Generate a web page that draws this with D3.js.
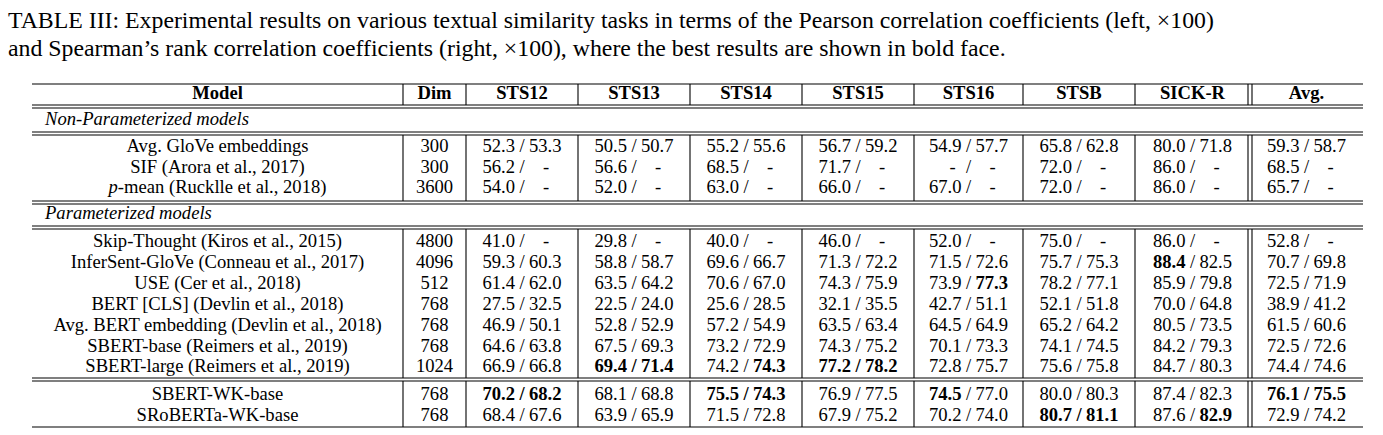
<!DOCTYPE html>
<html><head><meta charset="utf-8">
<script src="https://cdn.jsdelivr.net/npm/d3@7/dist/d3.min.js"></script>
<style>body{margin:0;background:#fff}text{font-family:"Liberation Serif","Times New Roman",serif;fill:#000}</style>
</head><body><svg id="c" width="1383" height="435"></svg>
<script>
const captionLines=["TABLE III: Experimental results on various textual similarity tasks in terms of the Pearson correlation coefficients (left, ×100)",
"and Spearman’s rank correlation coefficients (right, ×100), where the best results are shown in bold face."];
const headers=["Model","Dim","STS12","STS13","STS14","STS15","STS16","STSB","SICK-R","Avg."];
const groupTitles=["Non-Parameterized models","Parameterized models"];
const models1=["Avg. GloVe embeddings","SIF (Arora et al., 2017)","p-mean (Rucklle et al., 2018)"];
const dims1=["300","300","3600"];
const values1=[
["52.3/53.3","50.5/50.7","55.2/55.6","56.7/59.2","54.9/57.7","65.8/62.8","80.0/71.8","59.3/58.7"],
["56.2/-","56.6/-","68.5/-","71.7/-","-/-","72.0/-","86.0/-","68.5/-"],
["54.0/-","52.0/-","63.0/-","66.0/-","67.0/-","72.0/-","86.0/-","65.7/-"]];
const models2=["Skip-Thought (Kiros et al., 2015)","InferSent-GloVe (Conneau et al., 2017)","USE (Cer et al., 2018)","BERT [CLS] (Devlin et al., 2018)","Avg. BERT embedding (Devlin et al., 2018)","SBERT-base (Reimers et al., 2019)","SBERT-large (Reimers et al., 2019)"];
const dims2=["4800","4096","512","768","768","768","1024"];
const values2=[
["41.0/-","29.8/-","40.0/-","46.0/-","52.0/-","75.0/-","86.0/-","52.8/-"],
["59.3/60.3","58.8/58.7","69.6/66.7","71.3/72.2","71.5/72.6","75.7/75.3","88.4/82.5","70.7/69.8"],
["61.4/62.0","63.5/64.2","70.6/67.0","74.3/75.9","73.9/77.3","78.2/77.1","85.9/79.8","72.5/71.9"],
["27.5/32.5","22.5/24.0","25.6/28.5","32.1/35.5","42.7/51.1","52.1/51.8","70.0/64.8","38.9/41.2"],
["46.9/50.1","52.8/52.9","57.2/54.9","63.5/63.4","64.5/64.9","65.2/64.2","80.5/73.5","61.5/60.6"],
["64.6/63.8","67.5/69.3","73.2/72.9","74.3/75.2","70.1/73.3","74.1/74.5","84.2/79.3","72.5/72.6"],
["66.9/66.8","69.4/71.4","74.2/74.3","77.2/78.2","72.8/75.7","75.6/75.8","84.7/80.3","74.4/74.6"]];
const models3=["SBERT-WK-base","SRoBERTa-WK-base"];
const dims3=["768","768"];
const values3=[
["70.2/68.2","68.1/68.8","75.5/74.3","76.9/77.5","74.5/77.0","80.0/80.3","87.4/82.3","76.1/75.5"],
["68.4/67.6","63.9/65.9","71.5/72.8","67.9/75.2","70.2/74.0","80.7/81.1","87.6/82.9","72.9/74.2"]];
// best results: "block:row:col:half"
const best=["2:1:6:0","2:2:4:1","2:6:1:0","2:6:1:1","2:6:2:1","2:6:3:0","2:6:3:1",
"3:0:0:0","3:0:0:1","3:0:2:0","3:0:2:1","3:0:4:0","3:0:7:0","3:0:7:1","3:1:5:0","3:1:5:1","3:1:6:1"];

const svg=d3.select("#c");
const colEdges=[32,403,466,578,690,802,914,1023,1135,1250,1363];
const cx=i=>(colEdges[i]+colEdges[i+1])/2;
const line=(y,x1=32,x2=1363)=>svg.append("line").attr("x1",x1).attr("x2",x2).attr("y1",y).attr("y2",y).attr("stroke","#000").attr("stroke-width",1.2);
const vline=(xx,y1,y2)=>svg.append("line").attr("x1",xx).attr("x2",xx).attr("y1",y1).attr("y2",y2).attr("stroke","#000").attr("stroke-width",1.1);
const vlines=(y1,y2)=>{colEdges.slice(1,-1).forEach((e,i)=>{ if(i===colEdges.length-3){vline(e-2,y1,y2);vline(e+2,y1,y2);} else vline(e,y1,y2);});};

captionLines.forEach((t,i)=>svg.append("text").attr("x",8).attr("y",28+i*28).attr("font-size",23.8).text(t));

const fs=18.6;
line(84);
headers.forEach((h,i)=>svg.append("text").attr("x",cx(i)).attr("y",99).attr("text-anchor","middle").attr("font-size",fs).attr("font-weight","bold").text(h));
vlines(84,105);
line(105);line(108);
svg.append("text").attr("x",45).attr("y",125).attr("font-size",fs).attr("font-style","italic").text(groupTitles[0]);
line(132);line(135);

function block(b,models,dims,vals,y0,step){
  models.forEach((m,r)=>{
    const y=y0+r*step;
    const t=svg.append("text").attr("x",cx(0)).attr("y",y).attr("text-anchor","middle").attr("font-size",fs);
    if(m.startsWith("p-")){t.append("tspan").attr("font-style","italic").text("p");t.append("tspan").text(m.slice(1));}
    else t.text(m);
    svg.append("text").attr("x",cx(1)).attr("y",y).attr("text-anchor","middle").attr("font-size",fs).text(dims[r]);
    vals[r].forEach((v,c)=>{
      const [a,bb]=v.split("/");const X=cx(c+2);
      const bold=h=>best.includes(`${b}:${r}:${c}:${h}`)?"bold":"normal";
      svg.append("text").attr("x",a==="-"?X-16:X-7).attr("y",y).attr("text-anchor",a==="-"?"middle":"end").attr("font-size",fs).attr("font-weight",bold(0)).text(a);
      svg.append("text").attr("x",X).attr("y",y).attr("text-anchor","middle").attr("font-size",fs).attr("font-weight",(bold(0)==="bold"&&bold(1)==="bold")?"bold":"normal").text("/");
      svg.append("text").attr("x",bb==="-"?X+24:X+7).attr("y",y).attr("text-anchor",bb==="-"?"middle":"start").attr("font-size",fs).attr("font-weight",bold(1)).text(bb);
    });
  });
}
block(1,models1,dims1,values1,152,20.7);
vlines(135,201);
line(201);line(204);
svg.append("text").attr("x",45).attr("y",219).attr("font-size",fs).attr("font-style","italic").text(groupTitles[1]);
line(226);line(229);
block(2,models2,dims2,values2,247,20.9);
vlines(229,378);
line(378);line(381);
block(3,models3,dims3,values3,400,21);
vlines(381,427);
line(427);
</script></body></html>
